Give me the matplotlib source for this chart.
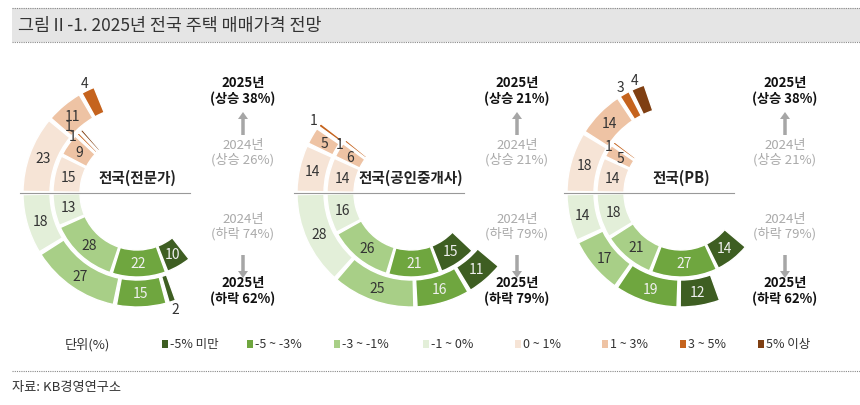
import numpy as np
import matplotlib.pyplot as plt
from matplotlib.patches import Wedge, Rectangle, FancyArrow

plt.rcParams['font.family'] = ['Noto Sans CJK KR', 'Noto Sans CJK JP',
                               'Noto Sans CJK SC', 'DejaVu Sans']

# legend categories, from most negative to most positive
categories = ['-5% 미만', '-5 ~ -3%', '-3 ~ -1%', '-1 ~ 0%', '0 ~ 1%', '1 ~ 3%', '3 ~ 5%', '5% 이상']
colors = ['#3e5e22', '#6fa63f', '#a8cf87', '#e3efd9', '#f6e4d6', '#eec3a4', '#c5631d', '#7f3f12']

panels = ['전국(전문가)', '전국(공인중개사)', '전국(PB)']

# rising shares (0~1, 1~3, 3~5, 5%+), falling shares (-1~0, -3~-1, -5~-3, <-5)
rise_2024 = [[15, 9, 1, 1], [14, 6, 1, 0], [14, 5, 1, 0]]
rise_2025 = [[23, 11, 4, 0], [14, 5, 1, 0], [18, 14, 3, 4]]
fall_2024 = [[13, 28, 22, 10], [16, 26, 21, 15], [18, 21, 27, 14]]
fall_2025 = [[18, 27, 15, 2], [28, 25, 16, 11], [14, 17, 19, 12]]

rise_tot_2024 = [26, 21, 21]
rise_tot_2025 = [38, 21, 38]
fall_tot_2024 = [74, 79, 79]
fall_tot_2025 = [62, 79, 62]

W, H = 860, 406
fig = plt.figure(figsize=(8.6, 4.06), dpi=100)
ax = fig.add_axes([0, 0, 1, 1])
ax.set_xlim(0, W)
ax.set_ylim(0, H)
ax.axis('off')


def Y(y):
    return H - y


# title band
ax.add_patch(Rectangle((12, Y(43)), W - 12, 34, color='#e5e5e5', lw=0))
for yy in (9, 43):
    ax.plot([12, W], [Y(yy), Y(yy)], color='#888888', lw=0.8, ls=(0, (1, 1)))
ax.text(18, Y(26), '그림Ⅱ-1. 2025년 전국 주택 매매가격 전망', fontsize=12.5,
        color='#333333', va='center')

centers_x = [137, 411, 681]
cy = Y(194)
S = 1.68   # degrees per percent
GAP = 1.6
rings = {'inner': (57, 27), 'outer': (87, 27)}


def draw_ring(cx, vals, col_idx, r0, width, up):
    pos = GAP / 2
    k = 0
    for v, ci in zip(vals, col_idx):
        if v <= 0:
            continue
        span = v * S
        if up:
            t1, t2 = 180 - pos - span, 180 - pos
        else:
            t1, t2 = 180 + pos, 180 + pos + span
        ax.add_patch(Wedge((cx, cy), r0 + width, t1, t2, width=width,
                           facecolor=colors[ci], edgecolor='white', lw=1.0))
        mid = np.deg2rad((t1 + t2) / 2)
        tc = '#f0f0f0' if ci in (0, 1) else '#333333'
        if v <= 4:
            tc = '#333333'
            if r0 > 70:
                r = r0 + width + 8
            else:
                r = r0 + width + 2 + k * 10
                mid += np.deg2rad(4 if up else -4)
                k += 1
        else:
            r = r0 + width / 2
        ax.text(cx + r * np.cos(mid), cy + r * np.sin(mid), str(v),
                fontsize=10, color=tc, ha='center', va='center')
        pos += span + GAP


for i, cx in enumerate(centers_x):
    rise_cols = [4, 5, 6, 7]
    fall_cols = [3, 2, 1, 0]
    draw_ring(cx, rise_2024[i], rise_cols, *rings['inner'], True)
    draw_ring(cx, rise_2025[i], rise_cols, *rings['outer'], True)
    draw_ring(cx, fall_2024[i], fall_cols, *rings['inner'], False)
    draw_ring(cx, fall_2025[i], fall_cols, *rings['outer'], False)
    ax.plot([cx - 117, cx + 53], [cy, cy], color='#999999', lw=0.8)
    ax.text(cx, Y(178), panels[i], fontsize=10.5, color='#222222',
            ha='center', va='center', fontweight='bold')

    tx = cx + 106 if i < 2 else cx + 104
    ax.text(tx, Y(91), f'2025년\n(상승 {rise_tot_2025[i]}%)', fontsize=9.5,
            color='#111111', ha='center', va='center', fontweight='bold',
            linespacing=1.15)
    ax.add_patch(FancyArrow(tx, Y(136), 0, 16, width=3.5, head_width=10,
                            head_length=7, color='#a6a6a6', lw=0))
    ax.text(tx, Y(153), f'2024년\n(상승 {rise_tot_2024[i]}%)', fontsize=9.5,
            color='#aaaaaa', ha='center', va='center', linespacing=1.15)
    ax.text(tx, Y(227), f'2024년\n(하락 {fall_tot_2024[i]}%)', fontsize=9.5,
            color='#aaaaaa', ha='center', va='center', linespacing=1.15)
    ax.add_patch(FancyArrow(tx, Y(256), 0, -16, width=3.5, head_width=10,
                            head_length=7, color='#a6a6a6', lw=0))
    ax.text(tx, Y(291), f'2025년\n(하락 {fall_tot_2025[i]}%)', fontsize=9.5,
            color='#111111', ha='center', va='center', fontweight='bold',
            linespacing=1.15)

# legend
ax.text(65, Y(345), '단위(%)', fontsize=9.5, color='#333333', va='center')
leg_x = [162, 247, 334, 423, 515, 602, 680, 758]
for x, c, lab in zip(leg_x, colors, categories):
    ax.add_patch(Rectangle((x, Y(349)), 6, 8, color=c, lw=0))
    ax.text(x + 8, Y(345), lab, fontsize=9, color='#333333', va='center')

ax.plot([12, W], [Y(372), Y(372)], color='#888888', lw=0.8, ls=(0, (1, 1)))
ax.text(12, Y(388), '자료: KB경영연구소', fontsize=9.5, color='#333333', va='center')

fig.savefig('out.png', dpi=100, facecolor='white')
